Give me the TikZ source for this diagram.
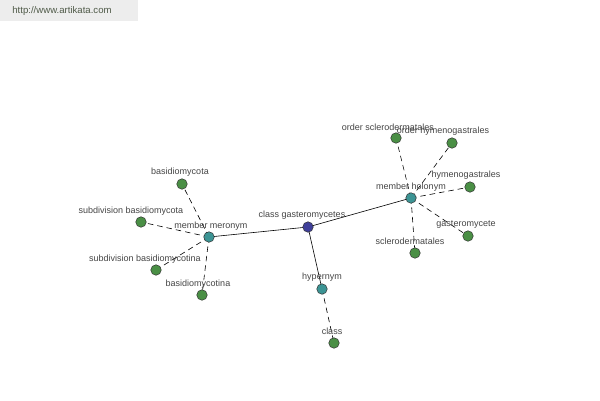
\documentclass[tikz,border=0pt]{standalone}
\usepackage{fontspec}
\setmainfont{Liberation Sans}
\definecolor{hub}{HTML}{3F3F9A}
\definecolor{rel}{HTML}{3C9494}
\definecolor{leaf}{HTML}{4A8F45}
\definecolor{lbl}{HTML}{454545}
\definecolor{hdr}{HTML}{EDEDED}
\definecolor{hdrtxt}{HTML}{4F5A48}
\begin{document}
\begin{tikzpicture}[x=1pt,y=-1pt,
  dot/.style={circle,draw=black!80,line width=0.5pt,minimum size=10.5pt,inner sep=0pt},
  hubdot/.style={dot,fill=hub},
  reldot/.style={dot,fill=rel},
  leafdot/.style={dot,fill=leaf},
  lab/.style={font=\fontsize{9}{10}\selectfont,text=lbl,inner sep=0pt},
  solidedge/.style={draw=black,line width=0.6pt},
  dashedge/.style={draw=black,line width=0.6pt,dash pattern=on 5.5pt off 4pt}]
\useasboundingbox (0,0) rectangle (600,400);
\fill[white] (0,0) rectangle (600,400);
\fill[hdr] (0,0) rectangle (138,21);
\node[font=\fontsize{9.6}{10}\selectfont,text=hdrtxt,inner sep=0pt] (hdr) at (62,11) {http://www.artikata.com};
% node positions
\coordinate (cg) at (308,227);
\coordinate (mm) at (209,237);
\coordinate (mh) at (411,198);
\coordinate (hy) at (322,289);
\coordinate (cl) at (334,343);
\coordinate (bm) at (182,184);
\coordinate (sb) at (141,222);
\coordinate (sbt) at (156,270);
\coordinate (bmt) at (202,295);
\coordinate (os) at (396,138);
\coordinate (oh) at (452,143);
\coordinate (hg) at (470,187);
\coordinate (gm) at (468,236);
\coordinate (sd) at (415,253);
% edges
\path[solidedge] (cg) -- (mm);
\path[solidedge] (cg) -- (mh);
\path[solidedge] (cg) -- (hy);
\path[dashedge] (hy) -- (cl);
\path[dashedge] (mm) -- (bm);
\path[dashedge] (mm) -- (sb);
\path[dashedge] (mm) -- (sbt);
\path[dashedge] (mm) -- (bmt);
\path[dashedge] (mh) -- (os);
\path[dashedge] (mh) -- (oh);
\path[dashedge] (mh) -- (hg);
\path[dashedge] (mh) -- (gm);
\path[dashedge] (mh) -- (sd);
% dots
\node[hubdot] (ncg) at (cg) {};
\node[reldot] (nmm) at (mm) {};
\node[reldot] (nmh) at (mh) {};
\node[reldot] (nhy) at (hy) {};
\node[leafdot] (ncl) at (cl) {};
\node[leafdot] (nbm) at (bm) {};
\node[leafdot] (nsb) at (sb) {};
\node[leafdot] (nsbt) at (sbt) {};
\node[leafdot] (nbmt) at (bmt) {};
\node[leafdot] (nos) at (os) {};
\node[leafdot] (noh) at (oh) {};
\node[leafdot] (nhg) at (hg) {};
\node[leafdot] (ngm) at (gm) {};
\node[leafdot] (nsd) at (sd) {};
% labels
\node[lab] (lcg) at (302,215) {class gasteromycetes};
\node[lab] (lmm) at (211,226) {member meronym};
\node[lab] (lmh) at (411,187) {member holonym};
\node[lab] (lhy) at (322,277) {hypernym};
\node[lab] (lcl) at (332,331) {class};
\node[lab] (lbm) at (180,172) {basidiomycota};
\node[lab] (lsb) at (131,211) {subdivision basidiomycota};
\node[lab] (lsbt) at (145,259) {subdivision basidiomycotina};
\node[lab] (lbmt) at (198,284) {basidiomycotina};
\node[lab] (los) at (388,127) {order sclerodermatales};
\node[lab] (loh) at (443,131) {order hymenogastrales};
\node[lab] (lhg) at (466,175) {hymenogastrales};
\node[lab] (lgm) at (466,225) {gasteromycete};
\node[lab] (lsd) at (410,241) {sclerodermatales};
\end{tikzpicture}
\end{document}
